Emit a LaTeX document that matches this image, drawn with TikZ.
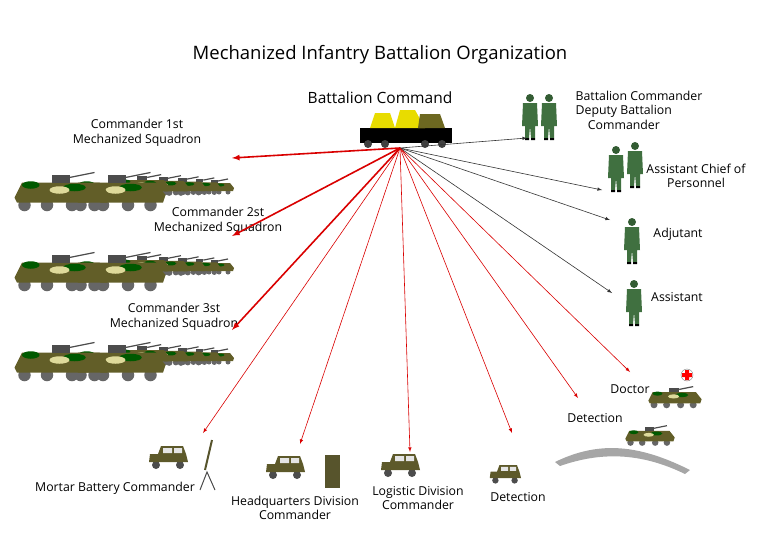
\documentclass[tikz,border=0pt]{standalone}
\usepackage{fontspec}
\setmainfont{Open Sans}
\begin{document}
\begin{tikzpicture}[x=1pt,y=-1pt,
 lbl/.style={font=\fontsize{12.3}{14.5}\selectfont, align=center, inner sep=1pt},
 ra/.style={-latex, red!85!black, line width=0.6pt},
 rb/.style={-latex, red!85!black, line width=1.6pt},
 ba/.style={-latex, black!80, line width=0.6pt},
 apc/.pic={
  \fill[black!60] (-30,4) circle (5) (-12,4) circle (5) (8,4) circle (5) (26,4) circle (5);
  \fill[olive!60!black] (-38,-2) -- (-32,-14) -- (30,-14) -- (38,-4) -- (36,2) -- (-36,2) -- cycle;
  \fill[green!35!black] (-25,-12) ellipse (7 and 3) (10,-10) ellipse (9 and 3);
  \fill[olive!30!white] (-2,-8) ellipse (8 and 3);
  \fill[black!70] (-8,-14) rectangle (6,-20);
  \draw[black!70, line width=1.2pt] (6,-18) -- (26,-22);
 },
 jeep/.pic={
  \fill[black!70] (-12,3) circle (4) (12,3) circle (4);
  \fill[olive!55!black] (-19,0) -- (-18,-8) -- (-10,-8) -- (-7,-16) -- (15,-16) -- (18,-8) -- (20,0) -- cycle;
  \fill[white!80!gray] (-5,-14) rectangle (4,-9) (6,-14) rectangle (14,-9);
 },
 soldier/.pic={
  \fill[green!20!black!80] (0,-40) circle (4);
  \fill[green!25!black!75] (-7,-35) -- (7,-35) -- (8,-12) -- (5,-12) -- (5,0) -- (1,0) -- (0,-12) -- (-1,0) -- (-5,0) -- (-5,-12) -- (-8,-12) -- cycle;
  \fill[black] (-5,0) rectangle (-1,2) (1,0) rectangle (5,2);
 }]
\useasboundingbox (0,0) rectangle (760,538);
\node[font=\fontsize{18.5}{20}\selectfont] (title) at (380,55) {Mechanized Infantry Battalion Organization};
\node[font=\fontsize{15.5}{18}\selectfont] (bc) at (380,98) {Battalion Command};
% hub vehicle
\node[inner sep=0, minimum width=90, minimum height=30] (hub) at (405,132) {};
\fill[black] (360,128) rectangle (452,143);
\fill[yellow!80!olive] (375,113) -- (390,113) -- (395,128) -- (370,128) -- cycle;
\fill[yellow!80!olive] (400,110) -- (415,110) -- (425,128) -- (395,128) -- cycle;
\fill[olive!70!black] (420,114) -- (440,114) -- (445,128) -- (418,128) -- cycle;
\foreach \x in {368,385,425,442} \fill[black!75] (\x,144) circle (4);
\coordinate (h) at (400,148);
% squadron vehicles
\foreach \y in {200,280,370}{
 \foreach \x/\s in {215/0.5,200/0.55,183/0.6,164/0.65,143/0.7}{ \pic[scale=\s] at (\x,\y-10) {apc}; }
 \pic[scale=1.25] at (118,\y) {apc};
 \pic[scale=1.25] at (62,\y) {apc};
}
\node[lbl] (s1) at (137,133) {Commander 1st\\Mechanized Squadron};
\node[lbl] (s2) at (218,221) {Commander 2st\\Mechanized Squadron};
\node[lbl] (s3) at (174,317) {Commander 3st\\Mechanized Squadron};
\coordinate (e1) at (232,158);
\coordinate (e2) at (232,236);
\coordinate (e3) at (232,330);
\draw[rb] (h) -- (e1);
\draw[rb] (h) -- (e2);
\draw[rb] (h) -- (e3);
% soldiers
\pic at (530,138) {soldier}; \pic at (549,138) {soldier};
\pic at (616,190) {soldier}; \pic at (635,186) {soldier};
\pic at (632,262) {soldier};
\pic at (634,324) {soldier};
\node[lbl, align=left] (p1) at (639,110) {Battalion Commander\\Deputy Battalion\\\quad Commander};
\node[lbl] (p2) at (696,176) {Assistant Chief of\\Personnel};
\node[lbl] (p3) at (678,234) {Adjutant};
\node[lbl] (p4) at (677,297) {Assistant};
\coordinate (b1) at (527,138);
\coordinate (b2) at (602,190);
\coordinate (b3) at (610,220);
\coordinate (b4) at (612,293);
\draw[ba] (h) -- (b1); \draw[ba] (h) -- (b2); \draw[ba] (h) -- (b3); \draw[ba] (h) -- (b4);
% bottom units
\pic at (168,462) {jeep};
\draw[olive!50!black, line width=2pt] (205,470) -- (212,440);
\draw[black!70, line width=1pt] (200,490) -- (207,472) -- (215,490);
\pic at (285,472) {jeep};
\fill[olive!50!black] (325,455) rectangle (340,488);
\pic at (400,470) {jeep};
\pic[scale=0.8] at (505,478) {jeep};
\pic[scale=0.7] at (675,402) {apc};
\fill[white] (687,375) circle (6); \draw[gray] (687,375) circle (6);
\fill[red] (685,370) rectangle (689,380) (682,373) rectangle (692,377);
\pic[scale=0.65] at (650,440) {apc};
\fill[gray!70] (555,462) .. controls (600,440) and (640,445) .. (690,470) -- (685,474) .. controls (640,452) and (600,452) .. (560,466) -- cycle;
\node[lbl] (u1) at (115,488) {Mortar Battery Commander};
\node[lbl] (u2) at (295,508) {Headquarters Division\\Commander};
\node[lbl] (u3) at (418,498) {Logistic Division\\Commander};
\node[lbl] (u4) at (518,497) {Detection};
\node[lbl] (u5) at (595,418) {Detection};
\node[lbl] (u6) at (630,389) {Doctor};
\coordinate (r1) at (203,433);
\coordinate (r2) at (300,444);
\coordinate (r3) at (410,452);
\coordinate (r4) at (512,433);
\coordinate (r5) at (578,398);
\coordinate (r6) at (630,372);
\foreach \r in {r1,r2,r3,r4,r5,r6} \draw[ra] (h) -- (\r);
\end{tikzpicture}
\end{document}
